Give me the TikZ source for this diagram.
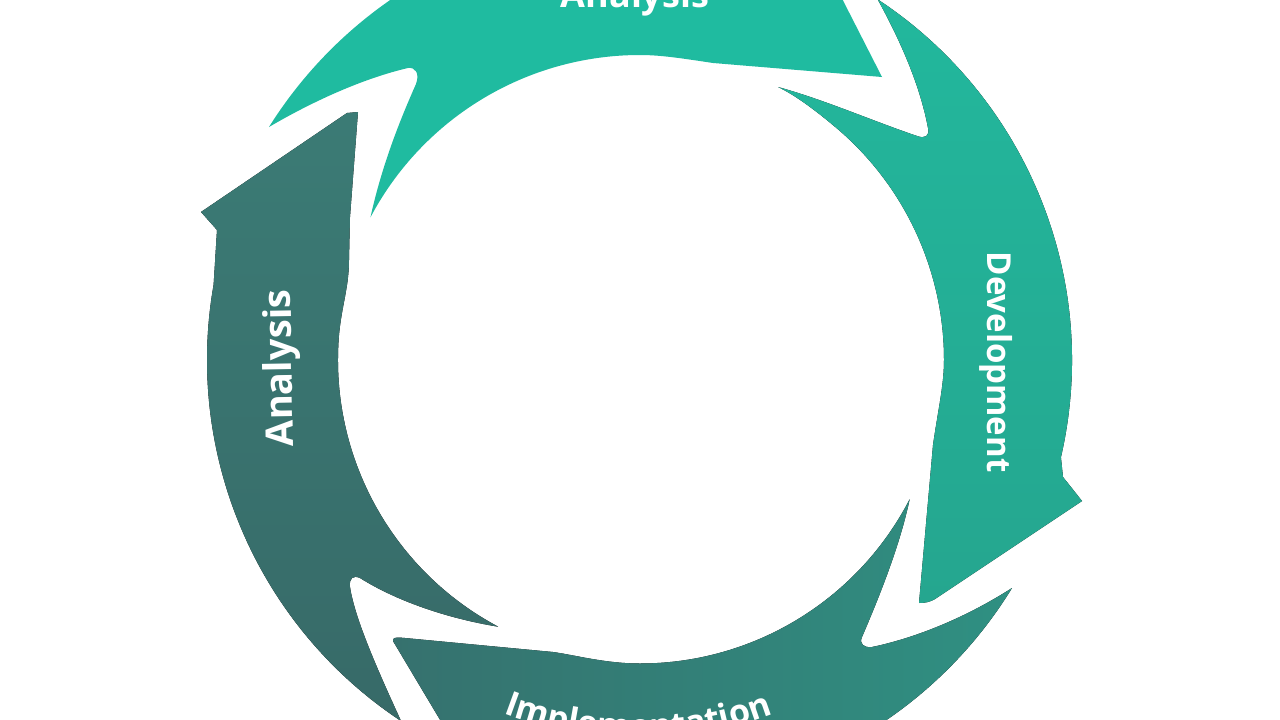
\documentclass[tikz,border=0pt]{standalone}
\usepackage{fontspec}
\setmainfont{Open Sans}
\usepackage{xcolor}
\usetikzlibrary{decorations.text}
\definecolor{tealtop}{HTML}{1FBBA0}
\definecolor{tealright}{HTML}{22B89D}
\definecolor{tealrightlow}{HTML}{25A68F}
\definecolor{greenbotright}{HTML}{2F9082}
\definecolor{greenbotleft}{HTML}{36716E}
\definecolor{greenleft}{HTML}{3B7B75}
\definecolor{greenleftlow}{HTML}{376A68}
\begin{document}
\begin{tikzpicture}[x=1pt, y=-1pt,
   steptext/.style={text=white, font=\fontsize{#1}{#1}\selectfont\bfseries, inner sep=0pt}]
   \useasboundingbox (0,0) rectangle (1280,720);
   \clip (0,0) rectangle (1280,720);
   \fill[white] (0,0) rectangle (1280,720);
   	\fill[tealtop]
   		(269,127) arc[start angle=212.1, end angle=262, radius=438]
   		-- (830,-25) -- (882,77) -- (713,63)
   		.. controls (680,58) and (660,55) .. (640,55)
   		arc[start angle=270, end angle=207.9, radius=305]
   		.. controls (382,165) and (400,120) .. (416,84)
   		.. controls (420,73) and (415,67) .. (408,68)
   		.. controls (365,78) and (315,100) .. (269,127) -- cycle;
   	\fill[top color=tealright, bottom color=tealrightlow]
   		(856,-14) arc[start angle=-60, end angle=13, radius=432]
   		-- (1063,477) -- (1082,501) -- (935,599)
   		.. controls (930,602) and (925,603) .. (919,603)
   		-- (933,445) .. controls (938,410) and (944,385) .. (944,360)
   		arc[start angle=0, end angle=-50, radius=304]
   		.. controls (815,110) and (795,95) .. (778,87)
   		.. controls (825,100) and (870,120) .. (917,136)
   		.. controls (925,139) and (930,136) .. (928,128)
   		.. controls (920,85) and (900,40) .. (878,0) -- cycle;
   	\fill[left color=greenbotleft, right color=greenbotright]
   		(1012,588) arc[start angle=31.5, end angle=70, radius=436]
   		-- (470,770) -- (393,641)
   		.. controls (392,638) and (395,637) .. (405,638)
   		-- (553,652) .. controls (575,655) and (605,663.5) .. (640,663.5)
   		arc[start angle=90, end angle=27.3, radius=303.5]
   		.. controls (900,545) and (880,595) .. (862,637)
   		.. controls (859,644) and (864,648) .. (872,647)
   		.. controls (920,637) and (970,615) .. (1012,588) -- cycle;
   	\fill[top color=greenleft, bottom color=greenleftlow]
   		(358,112) -- (347,113) -- (201,212) -- (217,230) -- (213.6,284.8)
   		arc[start angle=190, end angle=123.5, radius=433]
   		.. controls (380,675) and (355,620) .. (350,587)
   		.. controls (349,578) and (353,575) .. (360,578)
   		.. controls (395,600) and (445,618) .. (498.2,626.7)
   		arc[start angle=118, end angle=183, radius=302]
   		.. controls (340,310) and (349,290) .. (349,260) -- (350,217) -- cycle;
   	\node[steptext=36, anchor=base] (analysistop) at (635,7) {Analysis};
   	\node[steptext=33, rotate=-90] (development) at (996,362) {Development};
   	\node[steptext=38, rotate=91] (analysisleft) at (282,368) {Analysis};
   	\path[decorate, decoration={text along path, text align=center,
   		text={|\fontsize{34}{34}\selectfont\bfseries\color{white}|Implementation}}]
   		(478,703) arc[start angle=115, end angle=65, radius=379];
\end{tikzpicture}
\end{document}
